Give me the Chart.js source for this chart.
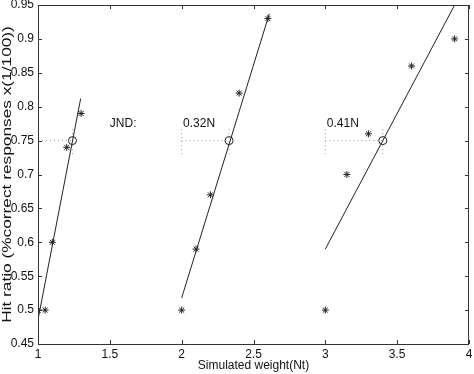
<!DOCTYPE html>
<html>
<head>
<meta charset="utf-8">
<script src="https://cdn.jsdelivr.net/npm/chart.js@4"></script>
<style>
  html, body { margin: 0; padding: 0; background: #fff; }
  #wrap { width: 474px; height: 374px; }
</style>
</head>
<body>
<div id="wrap"><canvas id="myChart"></canvas></div>
<script>
// measured points (simulated weight, hit ratio)
const starX = [1, 1.05, 1.1, 1.2, 1.3, 2, 2.1, 2.2, 2.4, 2.6, 3, 3.15, 3.3, 3.6, 3.9];
const starY = [0.5, 0.5, 0.6, 0.74, 0.79, 0.5, 0.59, 0.67, 0.82, 0.93, 0.5, 0.7, 0.76, 0.86, 0.9];

// fitted lines, one per reference weight
const fitX = [[1.0, 1.297], [2.0, 2.61], [3.0, 3.9]];
const fitY = [[0.486, 0.812], [0.518, 0.937], [0.59, 0.95]];

// 75% threshold points
const baseX = [1, 2, 3];
const threshX = [1.24, 2.33, 3.4];
const threshY = 0.75;
const jndLabels = ['JND:', '0.32N', '0.41N'];

const xTicks = [1, 1.5, 2, 2.5, 3, 3.5, 4];
const yTicks = [0.45, 0.5, 0.55, 0.6, 0.65, 0.7, 0.75, 0.8, 0.85, 0.9, 0.95];
const yTitle = 'Hit ratio (%correct responses x(1/100))';

const ink = '#222';
const dotted = '#999';

const datasets = [];

datasets.push({
  type: 'scatter',
  data: starX.map((x, i) => ({ x: x, y: starY[i] })),
  pointStyle: 'star',
  radius: 3.5,
  borderColor: ink,
  borderWidth: 1,
});

fitX.forEach((xs, i) => {
  datasets.push({
    type: 'line',
    data: xs.map((x, j) => ({ x: x, y: fitY[i][j] })),
    borderColor: ink,
    borderWidth: 1,
    pointRadius: 0,
  });
});

// dotted guides: horizontal to the threshold, short verticals at base and threshold
baseX.forEach((b, i) => {
  datasets.push({
    type: 'line',
    data: [{ x: b, y: threshY }, { x: threshX[i], y: threshY }],
    borderColor: dotted, borderWidth: 1, borderDash: [1, 3], pointRadius: 0,
  });
  const verts = i === 0 ? [threshX[i]] : [b, threshX[i]];
  verts.forEach(vx => {
    datasets.push({
      type: 'line',
      data: [{ x: vx, y: 0.73 }, { x: vx, y: 0.77 }],
      borderColor: dotted, borderWidth: 1, borderDash: [1, 3], pointRadius: 0,
    });
  });
});

datasets.push({
  type: 'scatter',
  data: threshX.map(x => ({ x: x, y: threshY })),
  pointStyle: 'circle',
  radius: 4,
  borderColor: ink,
  borderWidth: 1,
  backgroundColor: 'rgba(0,0,0,0)',
});

const jndText = {
  id: 'jndText',
  afterDatasetsDraw(chart) {
    const { ctx, scales: { x, y } } = chart;
    const pos = [[1.5, 0.775], [2.01, 0.775], [3.01, 0.775]];
    ctx.save();
    ctx.fillStyle = '#111';
    ctx.font = '12px "Liberation Sans", Arial, sans-serif';
    ctx.textBaseline = 'middle';
    ctx.textAlign = 'left';
    jndLabels.forEach((t, i) => {
      ctx.fillText(t, x.getPixelForValue(pos[i][0]), y.getPixelForValue(pos[i][1]));
    });
    ctx.restore();
  }
};

// y title is stretched along its length in the original figure
const yTitleDraw = {
  id: 'yTitleDraw',
  afterDraw(chart) {
    const { ctx, chartArea: a } = chart;
    ctx.save();
    ctx.translate(8, (a.top + a.bottom) / 2);
    ctx.rotate(-Math.PI / 2);
    ctx.scale(1.44, 1);
    ctx.fillStyle = '#111';
    ctx.font = '12px "Liberation Sans", Arial, sans-serif';
    ctx.textAlign = 'center';
    ctx.textBaseline = 'middle';
    ctx.fillText(yTitle, 0, 0);
    ctx.restore();
  }
};

// box and inward tick marks on all four sides
const boxTicks = {
  id: 'boxTicks',
  afterDraw(chart) {
    const { ctx, chartArea: a, scales: { x, y } } = chart;
    const len = 4;
    ctx.save();
    ctx.strokeStyle = '#333';
    ctx.lineWidth = 1;
    ctx.strokeRect(a.left + 0.5, a.top + 0.5, a.right - a.left - 1, a.bottom - a.top);
    ctx.beginPath();
    xTicks.forEach(v => {
      const px = Math.round(x.getPixelForValue(v)) + 0.5;
      ctx.moveTo(px, a.bottom); ctx.lineTo(px, a.bottom - len);
      ctx.moveTo(px, a.top); ctx.lineTo(px, a.top + len);
    });
    yTicks.forEach(v => {
      const py = Math.round(y.getPixelForValue(v)) + 0.5;
      ctx.moveTo(a.left, py); ctx.lineTo(a.left + len, py);
      ctx.moveTo(a.right, py); ctx.lineTo(a.right - len, py);
    });
    ctx.stroke();
    ctx.restore();
  }
};

const font = { family: '"Liberation Sans", Arial, sans-serif', size: 12 };

new Chart(document.getElementById('myChart').getContext('2d'), {
  data: { datasets: datasets },
  options: {
    responsive: true,
    maintainAspectRatio: false,
    animation: false,
    layout: { padding: { top: 5, right: 3, left: 0, bottom: 0 } },
    plugins: { legend: { display: false }, tooltip: { enabled: false } },
    scales: {
      x: {
        type: 'linear',
        min: 1, max: 4,
        afterFit: s => { s.height = 30; s.paddingLeft = 0; s.paddingRight = 0; },
        afterBuildTicks: s => { s.ticks = xTicks.map(v => ({ value: v })); },
        grid: { display: false, drawTicks: false },
        border: { display: false },
        ticks: { color: '#111', font: font, padding: 3, maxRotation: 0,
                 callback: v => String(v) },
        title: { display: true, text: 'Simulated weight(Nt)', color: '#111', font: font,
                 padding: { top: 0, bottom: 1 } },
      },
      y: {
        type: 'linear',
        min: 0.45, max: 0.95,
        afterFit: s => { s.width = 38; s.paddingTop = 0; s.paddingBottom = 0; },
        afterBuildTicks: s => { s.ticks = yTicks.map(v => ({ value: v })); },
        grid: { display: false, drawTicks: false },
        border: { display: false },
        ticks: { color: '#111', font: font, padding: 4,
                 callback: v => String(Number(v.toFixed(2))) },
        title: { display: false },
      }
    }
  },
  plugins: [jndText, yTitleDraw, boxTicks]
});
</script>
</body>
</html>
